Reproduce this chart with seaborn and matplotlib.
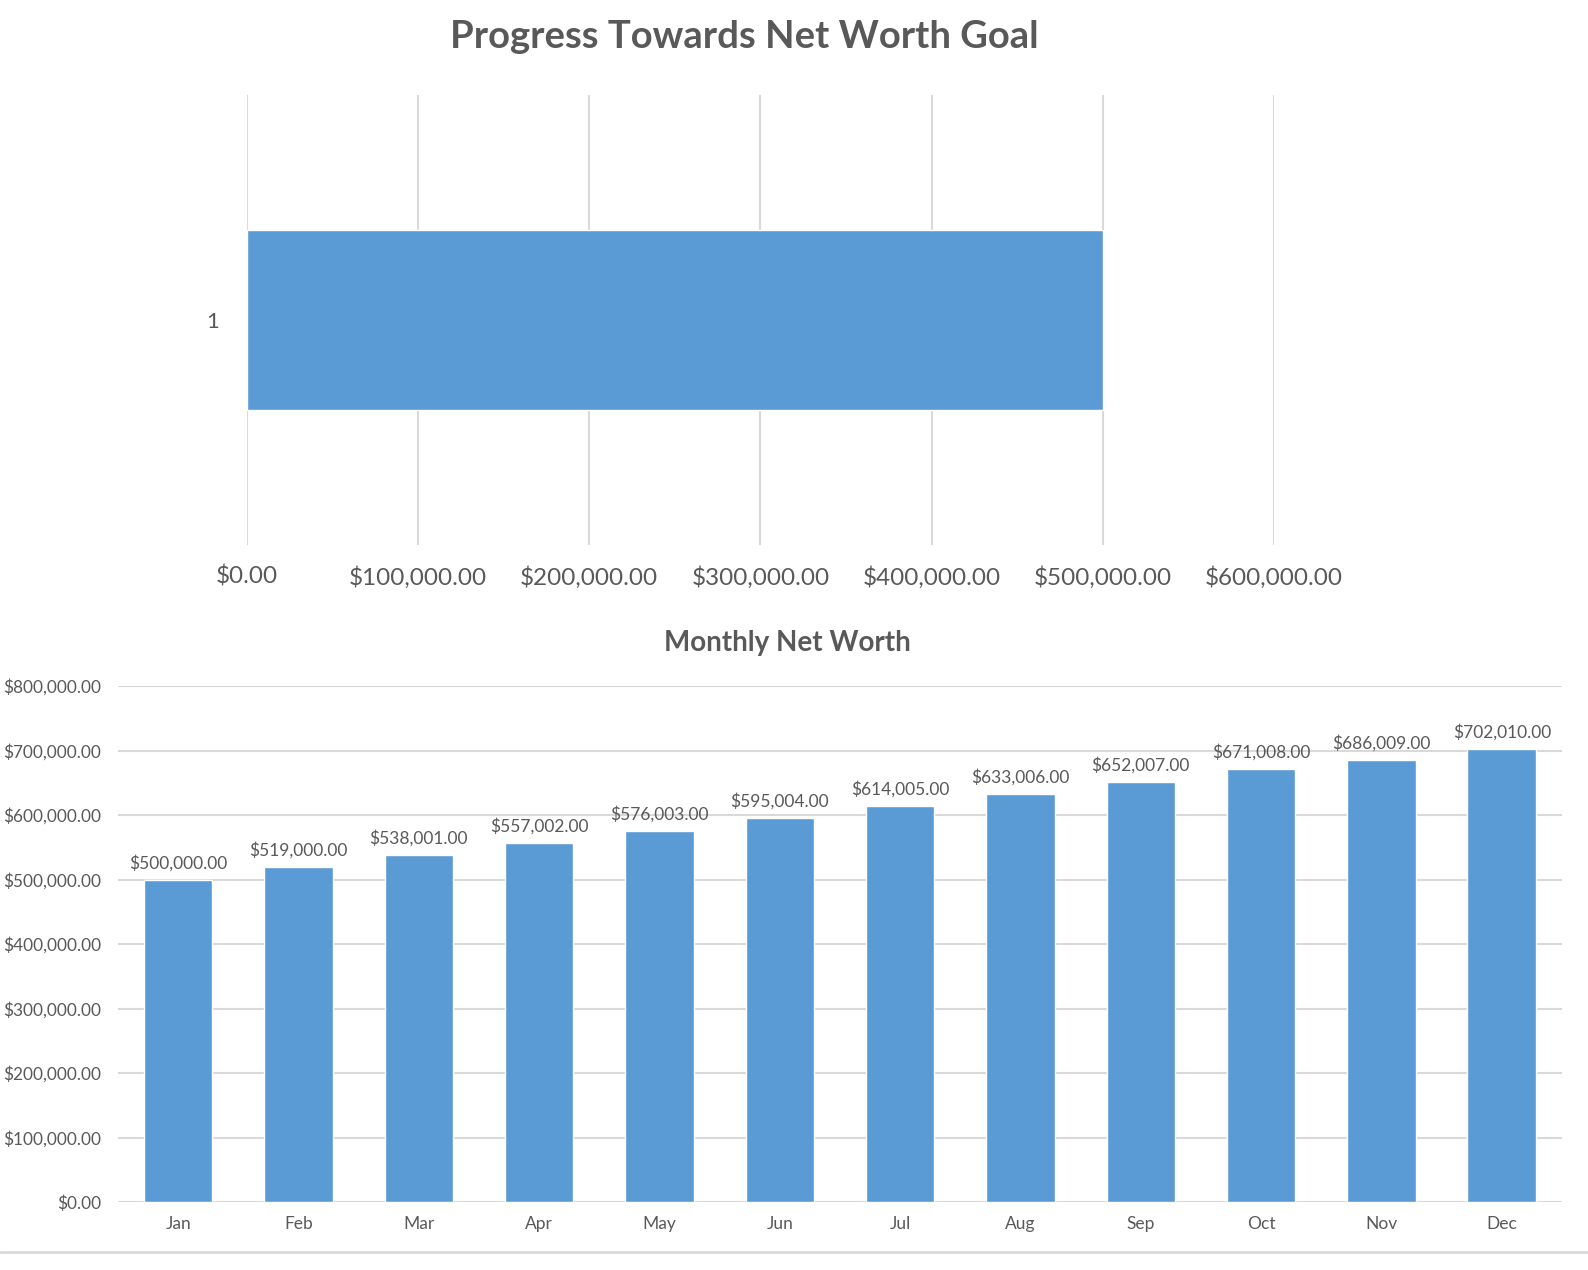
import matplotlib.pyplot as plt
import matplotlib.ticker as mticker
import seaborn as sns
import pandas as pd
from matplotlib.lines import Line2D

# data
goal_label = ["1"]
goal_progress = [500000]

months = ["Jan", "Feb", "Mar", "Apr", "May", "Jun",
          "Jul", "Aug", "Sep", "Oct", "Nov", "Dec"]
net_worth = [500000, 519000, 538001, 557002, 576003, 595004,
             614005, 633006, 652007, 671008, 686009, 702010]

bar_color = "#5B9BD5"
text_color = "#595959"
grid_color = "#D9D9D9"

sns.set_theme(style="white")
plt.rcParams["font.family"] = ["Lato", "DejaVu Sans"]

money = mticker.FuncFormatter(lambda v, p: f"${v:,.2f}")

fig = plt.figure(figsize=(15.88, 12.7), dpi=100)

# %% top chart: progress toward goal
ax1 = fig.add_axes([0.1555, 0.5709, 0.6467, 0.3543])
df_goal = pd.DataFrame({"label": goal_label, "value": goal_progress})
sns.barplot(data=df_goal, x="value", y="label", orient="h", color=bar_color,
            width=0.4, saturation=1, ax=ax1)
ax1.set_xlim(0, 600000)
ax1.set_ylim(0.5, -0.5)
ax1.xaxis.set_major_locator(mticker.MultipleLocator(100000))
ax1.xaxis.set_major_formatter(money)
ax1.grid(axis="x", color=grid_color, linewidth=1.5)
ax1.set_axisbelow(True)
for s in ax1.spines.values():
    s.set_visible(False)
ax1.tick_params(axis="x", labelsize=17.5, colors=text_color, length=0, pad=15)
ax1.tick_params(axis="y", labelsize=16, colors=text_color, length=0, pad=20)
ax1.set_xlabel("")
ax1.set_ylabel("")
fig.text(0.469, 0.971, "Progress Towards Net Worth Goal", ha="center", va="center",
         fontsize=27.5, fontweight="bold", color=text_color)

# %% bottom chart: monthly net worth
ax2 = fig.add_axes([0.0743, 0.0535, 0.9093, 0.4063])
df_month = pd.DataFrame({"month": months, "net_worth": net_worth})
sns.barplot(data=df_month, x="month", y="net_worth", color=bar_color,
            width=0.57, saturation=1, ax=ax2)
ax2.set_xlim(-0.5, len(months) - 0.5)
ax2.set_ylim(0, 800000)
ax2.yaxis.set_major_locator(mticker.MultipleLocator(100000))
ax2.yaxis.set_major_formatter(money)
ax2.grid(axis="y", color=grid_color, linewidth=1.5)
ax2.set_axisbelow(True)
for s in ax2.spines.values():
    s.set_visible(False)
ax2.tick_params(axis="y", labelsize=12.4, colors=text_color, length=0, pad=12)
ax2.tick_params(axis="x", labelsize=12.5, colors=text_color, length=0, pad=10)
ax2.set_xlabel("")
ax2.set_ylabel("")
ax2.bar_label(ax2.containers[0], labels=[f"${v:,.2f}" for v in net_worth],
              padding=6, fontsize=12.5, color=text_color)
fig.text(0.496, 0.494, "Monthly Net Worth", ha="center", va="center",
         fontsize=20, fontweight="bold", color=text_color)

# thin border line at the bottom of the sheet
fig.add_artist(Line2D([0, 1], [0.014, 0.014], color=grid_color, linewidth=2,
                      transform=fig.transFigure))

fig.savefig("out.png", dpi=100, facecolor="white")
